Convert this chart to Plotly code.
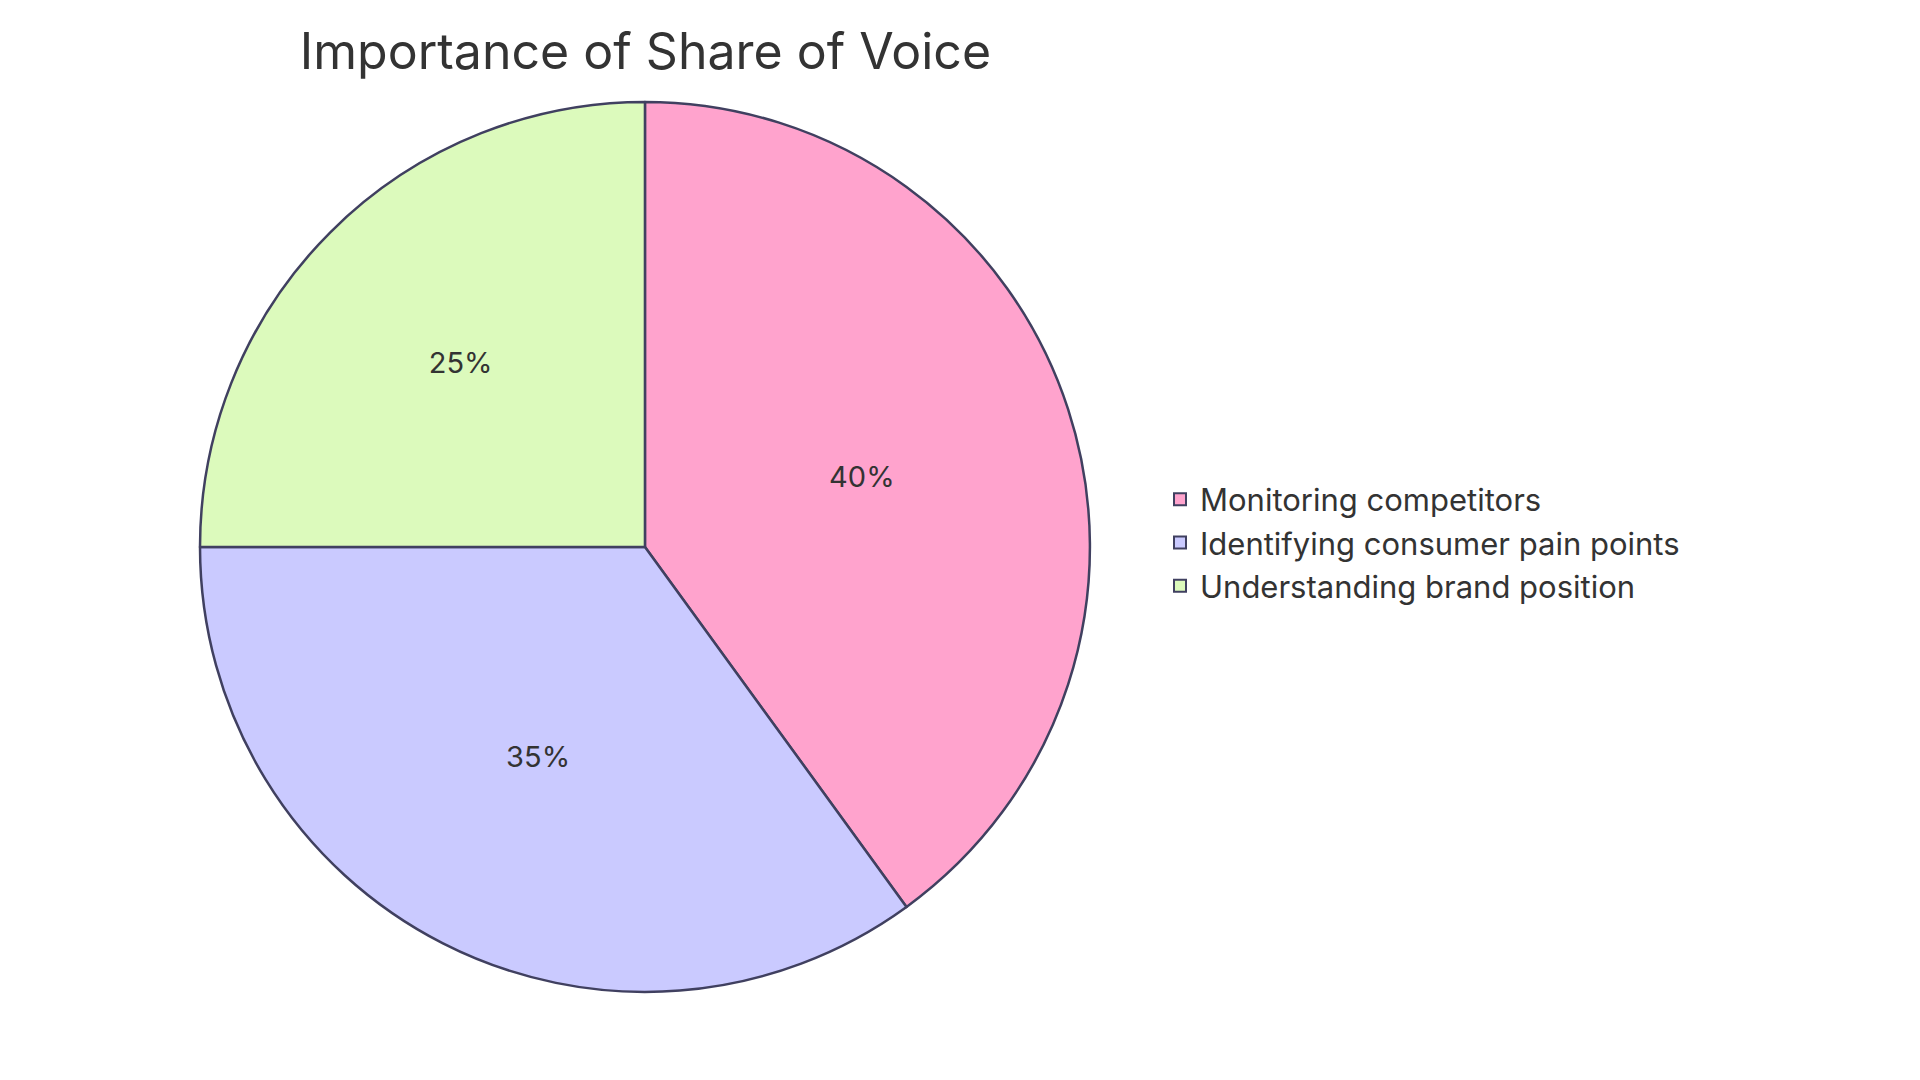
import plotly.graph_objects as go

# Data
labels = ["Monitoring competitors", "Identifying consumer pain points", "Understanding brand position"]
values = [40, 35, 25]
colors = ["#FFA3CD", "#CACAFF", "#DCFABC"]

fig = go.Figure(go.Pie(
    labels=labels, values=values, sort=False, direction="clockwise", rotation=0,
    marker=dict(colors=colors, line=dict(color="#404060", width=2.5)),
    textinfo="percent", texttemplate="%{percent:.0%}", textposition="inside",
    insidetextfont=dict(size=29, color="#333333"),
    domain=dict(x=[0.1, 0.5635], y=[0.089, 0.913]),
))

fig.update_layout(
    width=1920, height=1080,
    margin=dict(l=0, r=0, t=0, b=0),
    paper_bgcolor="white",
    font=dict(family="Inter, Open Sans, sans-serif", color="#333333"),
    title=dict(text="Importance of Share of Voice", x=0.332, xanchor="center",
               y=0.96, yanchor="middle", font=dict(size=50, color="#333333")),
    legend=dict(x=0.6, y=0.505, yanchor="middle", font=dict(size=31),
                itemsizing="constant", tracegroupgap=6),
)

fig.write_html("out.html")
